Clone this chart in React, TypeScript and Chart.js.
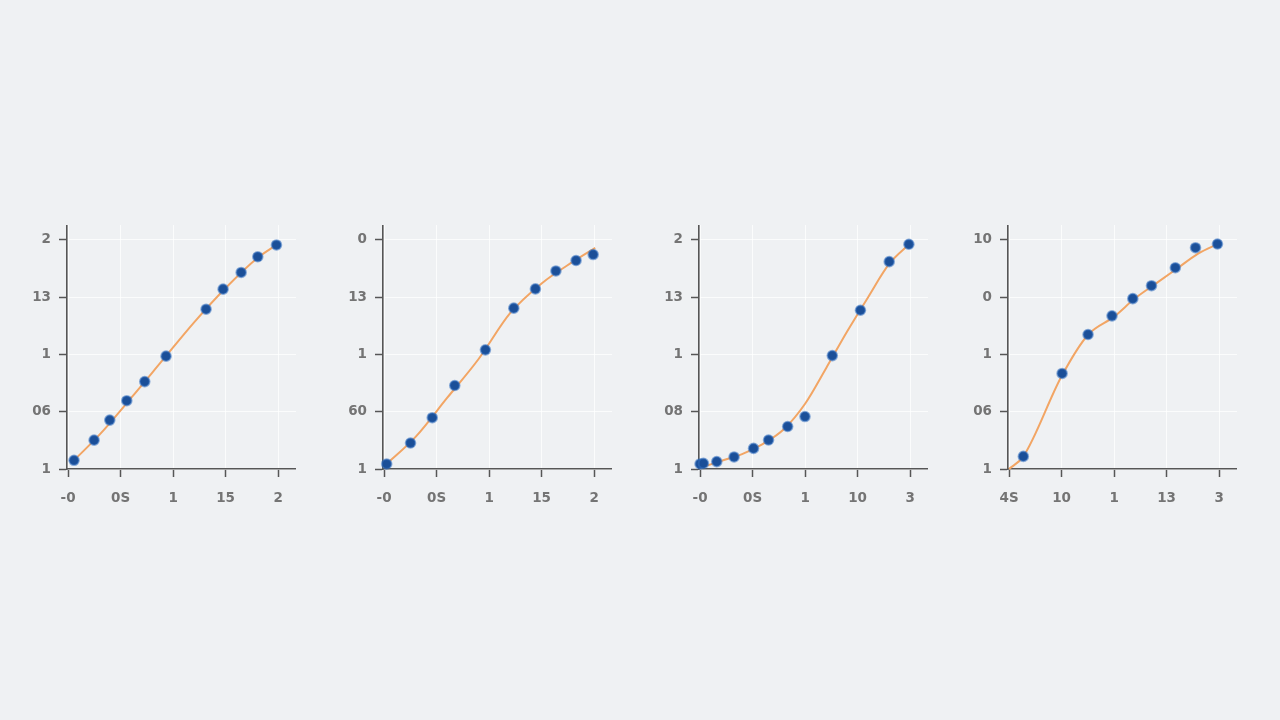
import React, { useEffect, useRef } from "react";
import { Chart, registerables } from "chart.js";

Chart.register(...registerables);

// ---- data ----
const tickValues = [0, 0.5, 1, 1.5, 2];

const p1XLabels = ["-0", "0S", "1", "15", "2"];
const p1YLabels = ["1", "06", "1", "13", "2"];
const p1PointsX = [0.057, 0.248, 0.397, 0.559, 0.73, 0.933, 1.314, 1.476, 1.648, 1.806, 1.984];
const p1PointsY = [0.076, 0.252, 0.427, 0.596, 0.763, 0.985, 1.395, 1.57, 1.716, 1.853, 1.956];
const p1CurveX = [0.05, 0.3, 0.6, 0.9, 1.2, 1.5, 1.8, 1.99];
const p1CurveY = [0.07, 0.3, 0.62, 0.95, 1.28, 1.58, 1.84, 1.96];

const p2XLabels = ["-0", "0S", "1", "15", "2"];
const p2YLabels = ["1", "60", "1", "13", "0"];
const p2PointsX = [0.025, 0.252, 0.459, 0.673, 0.965, 1.235, 1.441, 1.636, 1.828, 1.991];
const p2PointsY = [0.044, 0.227, 0.448, 0.729, 1.04, 1.404, 1.572, 1.729, 1.82, 1.872];
const p2CurveX = [0.02, 0.3, 0.6, 0.9, 1.2, 1.5, 1.8, 2.01];
const p2CurveY = [0.04, 0.28, 0.62, 0.96, 1.36, 1.62, 1.81, 1.93];

const p3XLabels = ["-0", "0S", "1", "10", "3"];
const p3YLabels = ["1", "08", "1", "13", "2"];
const p3PointsX = [0.0, 0.032, 0.159, 0.324, 0.509, 0.652, 0.834, 0.999, 1.259, 1.527, 1.801, 1.988];
const p3PointsY = [0.044, 0.049, 0.064, 0.105, 0.18, 0.253, 0.371, 0.458, 0.99, 1.386, 1.81, 1.962];
const p3CurveX = [0.0, 0.2, 0.4, 0.6, 0.8, 1.0, 1.2, 1.4, 1.6, 1.8, 2.0];
const p3CurveY = [0.01, 0.07, 0.13, 0.22, 0.35, 0.57, 0.88, 1.2, 1.5, 1.79, 1.97];

const p4XLabels = ["4S", "10", "1", "13", "3"];
const p4YLabels = ["1", "06", "1", "0", "10"];
const p4PointsX = [0.136, 0.505, 0.752, 0.98, 1.178, 1.356, 1.583, 1.775, 1.984];
const p4PointsY = [0.11, 0.834, 1.174, 1.337, 1.487, 1.6, 1.757, 1.932, 1.964];
const p4CurveX = [0.0, 0.136, 0.5, 0.75, 1.0, 1.2, 1.4, 1.6, 1.8, 2.0];
const p4CurveY = [0.0, 0.11, 0.81, 1.17, 1.33, 1.49, 1.62, 1.75, 1.88, 1.97];

const panels = [
  { xl: p1XLabels, yl: p1YLabels, px: p1PointsX, py: p1PointsY, cx: p1CurveX, cy: p1CurveY, left: 66.7 },
  { xl: p2XLabels, yl: p2YLabels, px: p2PointsX, py: p2PointsY, cx: p2CurveX, cy: p2CurveY, left: 382.7 },
  { xl: p3XLabels, yl: p3YLabels, px: p3PointsX, py: p3PointsY, cx: p3CurveX, cy: p3CurveY, left: 699 },
  { xl: p4XLabels, yl: p4YLabels, px: p4PointsX, py: p4PointsY, cx: p4CurveX, cy: p4CurveY, left: 1008.3 },
];

const Y_AXIS_W = 46;
const X_AXIS_H = 44;
const AREA_W = 229;
const AREA_H = 244.3;
const AREA_TOP = 225;

function noPadding(s: any) {
  s.paddingTop = 0;
  s.paddingBottom = 0;
  s.paddingLeft = 0;
  s.paddingRight = 0;
}

function Panel({ p }: { p: (typeof panels)[number] }) {
  const ref = useRef<HTMLCanvasElement | null>(null);
  useEffect(() => {
    if (!ref.current) return;
    const axisColor = "#565656";
    const tickFont = { family: "DejaVu Sans", size: 13.5, weight: "bold" as const };
    const chart = new Chart(ref.current, {
      type: "scatter",
      data: {
        datasets: [
          {
            type: "line",
            data: p.cx.map((x, i) => ({ x, y: p.cy[i] })),
            borderColor: "#f2a564",
            borderWidth: 2,
            pointRadius: 0,
            cubicInterpolationMode: "monotone",
            fill: false,
            clip: false,
            order: 2,
          },
          {
            type: "scatter",
            data: p.px.map((x, i) => ({ x, y: p.py[i] })),
            backgroundColor: "#1b4f98",
            borderColor: "rgba(50,110,190,0.55)",
            borderWidth: 2,
            pointRadius: 4.8,
            clip: false,
            order: 1,
          },
        ],
      },
      options: {
        animation: false,
        responsive: false,
        devicePixelRatio: 1,
        layout: { padding: 0, autoPadding: false },
        plugins: { legend: { display: false }, tooltip: { enabled: false } },
        scales: {
          x: {
            type: "linear",
            min: -0.01,
            max: 2.17,
            afterBuildTicks: (s: any) => {
              s.ticks = tickValues.map((v) => ({ value: v }));
            },
            afterFit: (s: any) => {
              s.height = X_AXIS_H;
              noPadding(s);
            },
            ticks: {
              callback: (_v: any, i: number) => p.xl[i],
              color: "#747474",
              font: tickFont,
              padding: 13,
              maxRotation: 0,
              autoSkip: false,
            },
            grid: {
              color: "rgba(255,255,255,0.75)",
              lineWidth: 1,
              tickColor: axisColor,
              tickLength: 8,
              tickWidth: 1.5,
            },
            border: { color: axisColor, width: 1.6 },
          },
          y: {
            type: "linear",
            min: 0,
            max: 2.13,
            afterBuildTicks: (s: any) => {
              s.ticks = tickValues.map((v) => ({ value: v }));
            },
            afterFit: (s: any) => {
              s.width = Y_AXIS_W;
              noPadding(s);
            },
            ticks: {
              callback: (_v: any, i: number) => p.yl[i],
              color: "#747474",
              font: tickFont,
              padding: 8,
              autoSkip: false,
            },
            grid: {
              color: "rgba(255,255,255,0.75)",
              lineWidth: 1,
              tickColor: axisColor,
              tickLength: 8,
              tickWidth: 1.5,
            },
            border: { color: axisColor, width: 1.6 },
          },
        },
      },
    } as any);
    return () => chart.destroy();
  }, [p]);
  const w = Y_AXIS_W + AREA_W;
  const h = AREA_H + X_AXIS_H;
  return (
    <canvas
      ref={ref}
      width={w}
      height={h}
      style={{
        position: "absolute",
        left: p.left - Y_AXIS_W,
        top: AREA_TOP,
        width: w,
        height: h,
      }}
    />
  );
}

export default function App() {
  useEffect(() => {
    document.body.style.margin = "0";
    document.body.style.background = "#eff1f3";
  }, []);
  return (
    <div style={{ position: "relative", width: 1280, height: 720, background: "#eff1f3", overflow: "hidden" }}>
      {panels.map((p, i) => (
        <Panel key={i} p={p} />
      ))}
    </div>
  );
}
